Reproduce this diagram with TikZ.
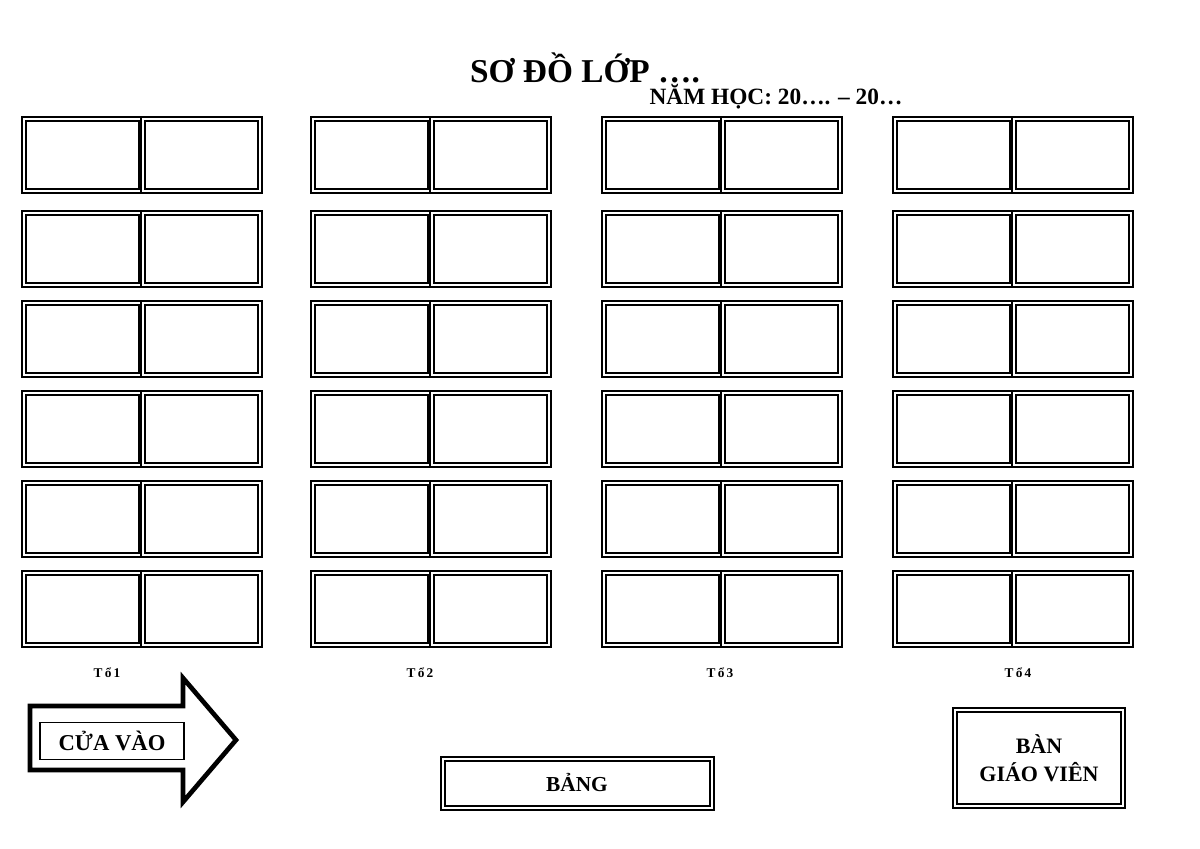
\documentclass[tikz,border=0pt]{standalone}
\usepackage{fontspec}
\setmainfont{Liberation Serif}
\begin{document}
\begin{tikzpicture}[x=0.75pt,y=-0.75pt,
  dbl/.style={draw=black,double=white,double distance=1.8pt,line width=1.3pt},
  lbl/.style={font=\bfseries\fontsize{10}{11}\selectfont},
]
\useasboundingbox[fill=white] (0,0) rectangle (1200,849);
\node[font=\bfseries\fontsize{25}{28}\selectfont] (title) at (585,68) {SƠ ĐỒ LỚP ….};
\node[font=\bfseries\fontsize{17.5}{19}\selectfont] (year) at (776,97) {NĂM HỌC: 20…. – 20…};
\foreach \g/\x in {1/22,2/311,3/602,4/893}{
  \foreach \r/\y in {1/117,2/211,3/301,4/391,5/481,6/571}{
    \draw[dbl] (\x+2,\y+2) rectangle (\x+119,\y+74);
    \draw[dbl] (\x+121,\y+2) rectangle (\x+238,\y+74);
  }
}
\node[lbl] (t1) at (107,673) {T\,ổ\,1};
\node[lbl] (t2) at (420,673) {T\,ổ\,2};
\node[lbl] (t3) at (720,673) {T\,ổ\,3};
\node[lbl] (t4) at (1018,673) {T\,ổ\,4};
\draw[line width=3.5pt,line join=miter] (30,706) -- (183,706) -- (183,678) -- (236,740) -- (183,802) -- (183,770) -- (30,770) -- cycle;
\node[draw,line width=1pt,minimum width=108pt,minimum height=28pt,font=\bfseries\fontsize{17}{19}\selectfont,inner sep=2pt] (door) at (112,741) {CỬA VÀO};
\draw[dbl] (443,759) rectangle (712,808);
\node[font=\bfseries\fontsize{16}{18}\selectfont] (board) at (577,783) {BẢNG};
\draw[dbl] (955,710) rectangle (1123,806);
\node[font=\bfseries\fontsize{16.5}{21}\selectfont,align=center] (teacher) at (1039,758) {BÀN\\GIÁO VIÊN};
\end{tikzpicture}
\end{document}
